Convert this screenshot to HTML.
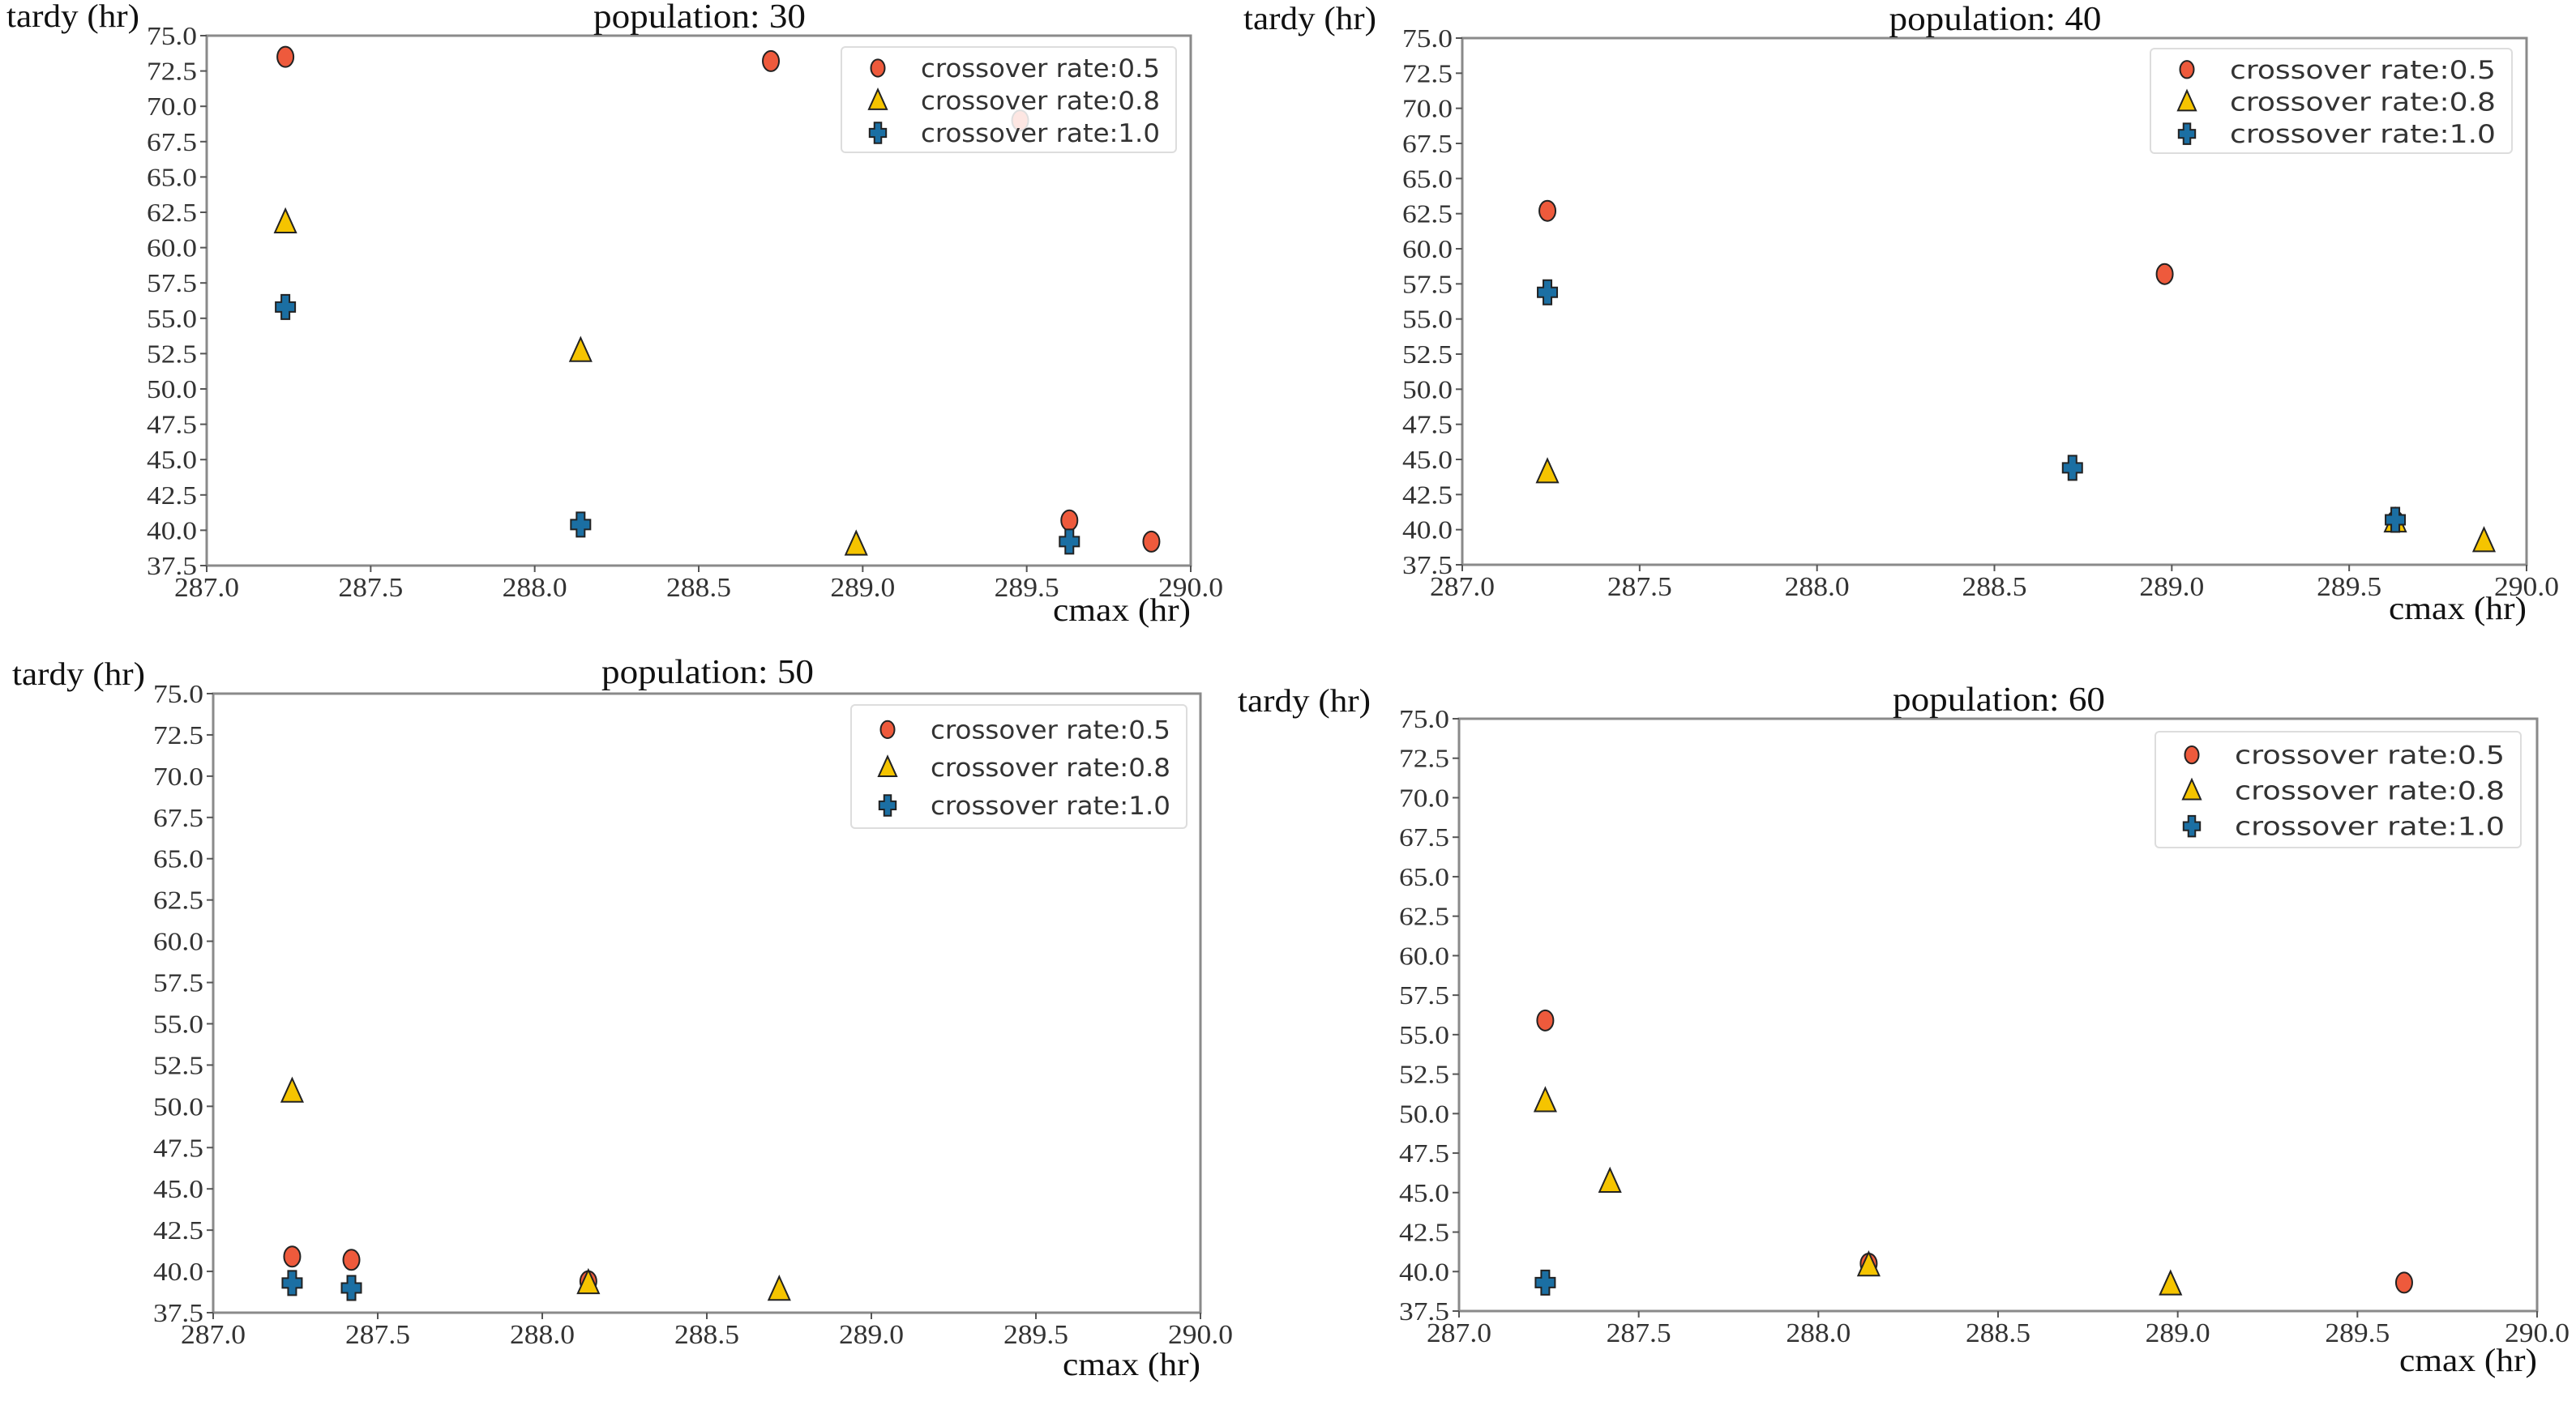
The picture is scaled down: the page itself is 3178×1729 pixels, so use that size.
<!DOCTYPE html>
<html><head><meta charset="utf-8"><style>
html,body{margin:0;padding:0;background:#fff;}
svg{display:block;}
</style></head><body>
<svg id="fig" width="3178" height="1729" xmlns="http://www.w3.org/2000/svg"></svg>
<script>
const xTicks = [287.0, 287.5, 288.0, 288.5, 289.0, 289.5, 290.0];
const yTicks = [37.5, 40.0, 42.5, 45.0, 47.5, 50.0, 52.5, 55.0, 57.5, 60.0, 62.5, 65.0, 67.5, 70.0, 72.5, 75.0];
const seriesNames = ["crossover rate:0.5", "crossover rate:0.8", "crossover rate:1.0"];
const populations = [30, 40, 50, 60];

const p30_r05_x = [287.24, 288.72, 289.48, 289.63, 289.88];
const p30_r05_y = [73.5, 73.2, 69.0, 40.7, 39.2];
const p30_r08_x = [287.24, 288.14, 288.98];
const p30_r08_y = [61.8, 52.7, 39.0];
const p30_r10_x = [287.24, 288.14, 289.63];
const p30_r10_y = [55.8, 40.4, 39.2];

const p40_r05_x = [287.24, 288.98, 289.63];
const p40_r05_y = [62.7, 58.2, 40.6];
const p40_r08_x = [287.24, 289.63, 289.88];
const p40_r08_y = [44.1, 40.6, 39.2];
const p40_r10_x = [287.24, 288.72, 289.63];
const p40_r10_y = [56.9, 44.4, 40.7];

const p50_r05_x = [287.24, 287.42, 288.14];
const p50_r05_y = [40.9, 40.7, 39.4];
const p50_r08_x = [287.24, 288.14, 288.72];
const p50_r08_y = [50.9, 39.3, 38.9];
const p50_r10_x = [287.24, 287.42];
const p50_r10_y = [39.3, 39.0];

const p60_r05_x = [287.24, 288.14, 289.63];
const p60_r05_y = [55.9, 40.5, 39.3];
const p60_r08_x = [287.24, 287.42, 288.14, 288.98];
const p60_r08_y = [50.8, 45.7, 40.4, 39.2];
const p60_r10_x = [287.24];
const p60_r10_y = [39.3];

const panelData = [
  [[p30_r05_x,p30_r05_y],[p30_r08_x,p30_r08_y],[p30_r10_x,p30_r10_y]],
  [[p40_r05_x,p40_r05_y],[p40_r08_x,p40_r08_y],[p40_r10_x,p40_r10_y]],
  [[p50_r05_x,p50_r05_y],[p50_r08_x,p50_r08_y],[p50_r10_x,p50_r10_y]],
  [[p60_r05_x,p60_r05_y],[p60_r08_x,p60_r08_y],[p60_r10_x,p60_r10_y]]
];

const layout = [
  {l:255,r:1469,t:44,b:698,ylx:8,yly:33,tly:34,xly:766,lg:[1038,58,1451,188]},
  {l:1804,r:3117,t:47,b:697,ylx:1534,yly:36,tly:37,xly:764,lg:[2653,60,3099,189]},
  {l:263,r:1481,t:856,b:1620,ylx:15,yly:845,tly:843,xly:1697,lg:[1050,870,1464,1022]},
  {l:1800,r:3130,t:887,b:1618,ylx:1527,yly:878,tly:877,xly:1692,lg:[2659,903,3110,1046]}
];
const colors = ["#ee5a3c","#f5c400","#1b6fa3"];
const NS = "http://www.w3.org/2000/svg";
const svg = document.getElementById('fig');
function mk(tag, attrs, parent){const e=document.createElementNS(NS,tag);for(const k in attrs)e.setAttribute(k,attrs[k]);(parent||svg).appendChild(e);return e;}
const serif = '"Liberation Serif", serif';
const sans = '"DejaVu Sans", "Liberation Sans", sans-serif';

function marker(g, kind, cx, cy, s){
  let e;
  if(kind===0){ e=mk('ellipse',{cx:cx,cy:cy,rx:10*s,ry:12.5*s,fill:colors[0],stroke:'#222','stroke-width':2},g); }
  else if(kind===1){ const w=13*s,h=16*s; e=mk('polygon',{points:`${cx},${cy-h} ${cx+w},${cy+h*0.8} ${cx-w},${cy+h*0.8}`,fill:colors[1],stroke:'#222','stroke-width':2},g); }
  else { const a=5*s,b=12*s,av=6*s,bv=15*s; e=mk('polygon',{points:`${cx-a},${cy-bv} ${cx+a},${cy-bv} ${cx+a},${cy-av} ${cx+b},${cy-av} ${cx+b},${cy+av} ${cx+a},${cy+av} ${cx+a},${cy+bv} ${cx-a},${cy+bv} ${cx-a},${cy+av} ${cx-b},${cy+av} ${cx-b},${cy-av} ${cx-a},${cy-av}`,fill:colors[2],stroke:'#222','stroke-width':2},g); }
  return e;
}

populations.forEach((pop, pi) => {
  const L = layout[pi];
  const g = mk('g',{});
  
  
  const xs = v => L.l + (v - xTicks[0]) / (xTicks[xTicks.length-1] - xTicks[0]) * (L.r - L.l);
  const ys = v => L.b - (v - yTicks[0]) / (yTicks[yTicks.length-1] - yTicks[0]) * (L.b - L.t);
  const frame = mk('rect',{x:L.l,y:L.t,width:L.r-L.l,height:L.b-L.t,fill:'#fff',stroke:'#8a8a8a','stroke-width':3},g);
  
  
  xTicks.forEach(v => {
    const x = xs(v);
    mk('line',{x1:x,x2:x,y1:L.b,y2:L.b+8,stroke:'#555','stroke-width':2},g);
    const t = mk('text',{x:x,y:L.b+38,'text-anchor':'middle','font-family':serif,'font-size':34,fill:'#333',textLength:80,lengthAdjust:'spacingAndGlyphs'},g);
    t.textContent = v.toFixed(1);
    
    
  });
  yTicks.forEach(v => {
    const y = ys(v);
    mk('line',{x1:L.l-8,x2:L.l,y1:y,y2:y,stroke:'#555','stroke-width':2},g);
    const t = mk('text',{x:L.l-74,y:y+11,'font-family':serif,'font-size':32,fill:'#333',textLength:62,lengthAdjust:'spacingAndGlyphs'},g);
    t.textContent = v.toFixed(1);
    
    
  });
  const cx = (L.l+L.r)/2;
  const title = mk('text',{x:cx-130,y:L.tly,'font-family':serif,'font-size':42,fill:'#111',textLength:262,lengthAdjust:'spacingAndGlyphs'},g);
  title.textContent = 'population: ' + pop;
  
  
  const yl = mk('text',{x:L.ylx,y:L.yly,'font-family':serif,'font-size':40,fill:'#111',textLength:164,lengthAdjust:'spacingAndGlyphs'},g);
  yl.textContent = 'tardy (hr)';
  
  
  const xl = mk('text',{x:L.r-170,y:L.xly,'font-family':serif,'font-size':40,fill:'#111',textLength:170,lengthAdjust:'spacingAndGlyphs'},g);
  xl.textContent = 'cmax (hr)';
  
  
  panelData[pi].forEach((ser, si) => {
    const sx = ser[0], sy = ser[1];
    for (let i = 0; i < sx.length; i++) {
      const m = marker(g, si, xs(sx[i]), ys(sy[i]), 1);
      
      
    }
  });
  const lg = mk('g',{},g);
  
  
  const [x1,y1,x2,y2] = L.lg;
  mk('rect',{x:x1,y:y1,width:x2-x1,height:y2-y1,rx:5,fill:'#fff','fill-opacity':0.85,stroke:'#ddd','stroke-width':2},lg);
  const rowH = (y2-y1)/3.25;
  seriesNames.forEach((nm, si) => {
    const cy = y1 + rowH*0.65 + si*rowH;
    const m = marker(lg, si, x1+45, cy, 0.85);
    
    
    const t = mk('text',{x:x1+98,y:cy+11,'font-family':sans,'font-size':31,fill:'#333',textLength:(x2-x1)-118,lengthAdjust:'spacingAndGlyphs'},lg);
    t.textContent = nm;
    
    
  });
});
</script>
</body></html>
